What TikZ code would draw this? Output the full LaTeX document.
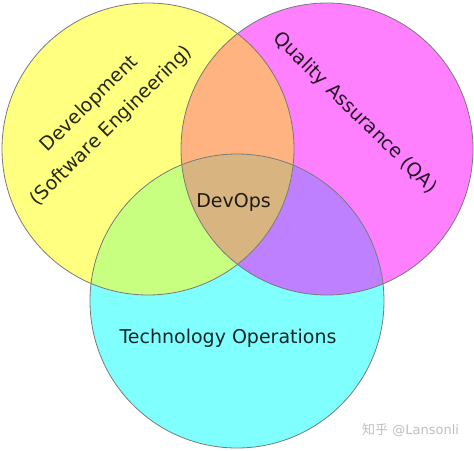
\documentclass[tikz,border=0pt]{standalone}
\usepackage{fontspec}
\setmainfont{DejaVu Sans}
\newfontfamily\cjkfont{Noto Sans CJK SC}
\definecolor{cY}{HTML}{FFFF80}
\definecolor{cM}{HTML}{FF80FF}
\definecolor{cC}{HTML}{80FFFF}
\definecolor{cYM}{HTML}{FFB380}
\definecolor{cYC}{HTML}{C8FF80}
\definecolor{cMC}{HTML}{BF80FF}
\definecolor{cAll}{HTML}{D8B480}
\definecolor{edge}{HTML}{7A7A7A}
\begin{document}
\begin{tikzpicture}[x=1pt,y=-1pt,
  lbl/.style={font=\fontsize{19}{23}\selectfont, text=black, text opacity=0.85, inner sep=0pt},
  ring/.style={draw=edge, line width=0.8pt}]
\useasboundingbox (0,0) rectangle (474,450);
\fill[white] (0,0) rectangle (474,450);
\coordinate (Y) at (148,149);
\coordinate (M) at (327,149);
\coordinate (C) at (237,301);
\fill[cY] (Y) circle (146);
\fill[cM] (M) circle (146);
\fill[cC] (C) circle (147);
\begin{scope}
  \clip (M) circle (146);
  \fill[cMC] (C) circle (147);
\end{scope}
\begin{scope}
  \clip (Y) circle (146);
  \fill[cYM] (M) circle (146);
  \fill[cYC] (C) circle (147);
  \clip (M) circle (146);
  \fill[cAll] (C) circle (147);
\end{scope}
\draw[ring] (Y) circle (146);
\draw[ring] (M) circle (146);
\draw[ring] (C) circle (147);
\node[lbl, rotate=44.5, align=center, font=\fontsize{19}{31}\selectfont] (dev) at (100.75,115) {Development\\(Software Engineering)};
\node[lbl, rotate=-44.5] (qa) at (355,113) {Quality Assurance (QA)};
\node[lbl] (devops) at (233.5,202) {DevOps};
\node[lbl] (ops) at (228,338) {Technology Operations};
\node[font=\fontsize{13}{15}\selectfont, text=black!25, inner sep=0pt, anchor=west] (wm) at (362,430) {{\cjkfont 知乎} @Lansonli};
\end{tikzpicture}
\end{document}
